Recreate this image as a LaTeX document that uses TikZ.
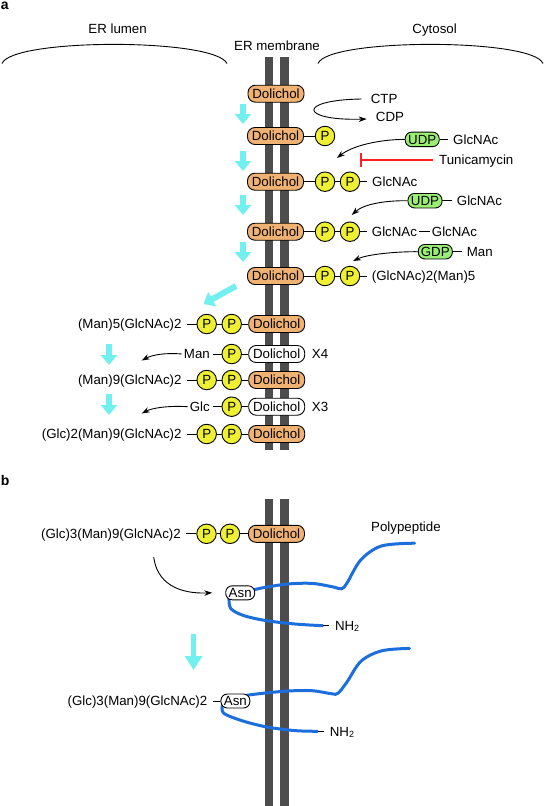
\documentclass[tikz,border=0pt]{standalone}
\usepackage{fontspec}
\setmainfont{Liberation Sans}
\usetikzlibrary{arrows.meta}
\definecolor{dolc}{HTML}{F0B272}
\definecolor{phc}{HTML}{F0F032}
\definecolor{ndpc}{HTML}{9AEE74}
\definecolor{cyc}{HTML}{72F0F0}
\definecolor{barc}{HTML}{4D4D4D}
\definecolor{pepc}{HTML}{1C6EDC}
\definecolor{redc}{HTML}{FF2020}
\newcommand{\subtwo}{{\fontsize{9}{9}\selectfont\raisebox{-1.5pt}{2}}}
\begin{document}
\begin{tikzpicture}[x=1pt,y=-1pt,
 every node/.style={font=\fontsize{13.3}{15}\selectfont},
 txt/.style={inner sep=0pt, text height=9.5pt, text depth=0pt},
 dol/.style={draw, line width=0.9pt, fill=dolc, rounded corners=7.5pt, minimum width=56pt, minimum height=17pt, inner sep=0pt, text height=9.5pt, text depth=0pt},
 dolw/.style={dol, fill=white},
 ph/.style={draw, line width=0.9pt, fill=phc, circle, minimum size=19.5pt, inner sep=0pt, text height=9.5pt, text depth=0pt},
 ndp/.style={draw, line width=0.9pt, fill=ndpc, rounded corners=6.5pt, minimum width=34pt, minimum height=14.5pt, inner sep=0pt, text height=9.5pt, text depth=0pt},
 asn/.style={draw, line width=0.9pt, fill=white, rounded corners=6.5pt, minimum width=29pt, minimum height=14pt, inner sep=0pt, text height=9.5pt, text depth=0pt},
 bond/.style={line width=0.9pt},
 arr/.style={line width=0.9pt, -{Stealth[length=8pt,width=5.5pt]}},
 cyarr/.style={draw=cyc, line width=6pt, -{Triangle[width=16pt,length=10pt]}},
 bar/.style={fill=barc},
 pep/.style={draw=pepc, line width=3pt, line cap=round, line join=round},
 panel/.style={inner sep=0pt, anchor=base west, font=\fontsize{14}{16}\selectfont\bfseries}
]
\useasboundingbox (0,0) rectangle (544,806);

% ---------- panel a ----------
\node[panel] (la) at (0.6,9.6) {a};
\node[txt] (lumen) at (117.6,28.5) {ER lumen};
\node[txt] (cyto) at (434.6,28.5) {Cytosol};
\node[txt] (memb) at (277,46) {ER membrane};
\draw[line width=0.9pt] (2,63.5) .. controls (12,38) and (215,38) .. (227,63.5);
\draw[line width=0.9pt] (318,63.5) .. controls (328,38) and (533,38) .. (543,63.5);

\fill[bar] (264.5,56.5) rectangle (273,449.5);
\fill[bar] (280,56.5) rectangle (288.5,449.5);

% row 1
\node[dol] (d1) at (276,93.7) {Dolichol};
\node[txt, anchor=west] (ctp) at (370.6,99) {CTP};
\node[txt, anchor=west] (cdp) at (375.7,117) {CDP};
\draw[arr] ([xshift=-9pt]ctp.west) .. controls (296,100) and (300,121) .. ([shift={(-9,2)}]cdp.west);

% row 2
\node[dol] (d2) at (275.5,136) {Dolichol};
\node[ph] (p2) at (325,136) {P};
\draw[bond] (d2) -- (p2);
\node[ndp] (u2) at (422.2,139.4) {UDP};
\node[txt, anchor=west] (g2) at (453,139.4) {GlcNAc};
\draw[bond, shorten >=5pt] (u2) -- (g2);
\coordinate (t2) at (337,158);
\draw[arr] (u2.west) .. controls (378,139.5) and (352,146) .. (t2);
\node[txt, anchor=west] (tun) at (439,160) {Tunicamycin};
\coordinate (inh) at (360,160);
\draw[redc, line width=1.6pt, -{Bar[width=14pt]}] ([xshift=-6pt]tun.west) -- (inh);

% row 3
\node[dol] (d3) at (275.5,181.7) {Dolichol};
\node[ph] (p3a) at (325,181.7) {P};
\node[ph] (p3b) at (350,181.7) {P};
\node[txt, anchor=west] (n3) at (372,181.7) {GlcNAc};
\draw[bond] (d3) -- (p3a);
\draw[bond] (p3a) -- (p3b);
\draw[bond, shorten >=5pt] (p3b) -- (n3);
\node[ndp] (u3) at (425,200.7) {UDP};
\node[txt, anchor=west] (g3) at (456.7,200.7) {GlcNAc};
\draw[bond, shorten >=5pt] (u3) -- (g3);
\coordinate (t3) at (351.7,215);
\draw[arr] (u3.west) .. controls (385,200.5) and (364,204) .. (t3);

% row 4
\node[dol] (d4) at (275.5,231.7) {Dolichol};
\node[ph] (p4a) at (325,231.7) {P};
\node[ph] (p4b) at (350,231.7) {P};
\node[txt, anchor=west] (n4a) at (371.7,231.7) {GlcNAc};
\node[txt, anchor=west] (n4b) at (431.7,231.7) {GlcNAc};
\draw[bond] (d4) -- (p4a);
\draw[bond] (p4a) -- (p4b);
\draw[bond, shorten >=5pt] (p4b) -- (n4a);
\draw[bond, shorten <=2pt, shorten >=2pt] (n4a) -- (n4b);
\node[ndp] (gd) at (435.3,251.7) {GDP};
\node[txt, anchor=west] (mn4) at (466.7,251.7) {Man};
\draw[bond, shorten >=5pt] (gd) -- (mn4);
\coordinate (t4) at (353,261);
\draw[arr] (gd.west) .. controls (398,251.5) and (368,254) .. (t4);

% row 5
\node[dol] (d5) at (275.5,276) {Dolichol};
\node[ph] (p5a) at (325,276) {P};
\node[ph] (p5b) at (350,276) {P};
\node[txt, anchor=west] (n5) at (371.7,276) {(GlcNAc)2(Man)5};
\draw[bond] (d5) -- (p5a);
\draw[bond] (p5a) -- (p5b);
\draw[bond, shorten >=5pt] (p5b) -- (n5);

% cyan arrows (membrane side)
\coordinate (c1a) at (243,104); \coordinate (c1b) at (243,124);
\coordinate (c2a) at (243,151); \coordinate (c2b) at (243,171);
\coordinate (c3a) at (243,195); \coordinate (c3b) at (243,215);
\coordinate (c4a) at (243,242); \coordinate (c4b) at (243,262);
\draw[cyarr] (c1a) -- (c1b);
\draw[cyarr] (c2a) -- (c2b);
\draw[cyarr] (c3a) -- (c3b);
\draw[cyarr] (c4a) -- (c4b);
\coordinate (cda) at (236,286); \coordinate (cdb) at (203.5,304);
\draw[cyarr] (cda) -- (cdb);

% row 6
\node[txt, anchor=east] (n6) at (181.7,324) {(Man)5(GlcNAc)2};
\node[ph] (p6a) at (206.7,324) {P};
\node[ph] (p6b) at (231.7,324) {P};
\node[dol] (d6) at (276.7,324) {Dolichol};
\draw[bond, shorten <=5pt] (n6) -- (p6a);
\draw[bond] (p6a) -- (p6b);
\draw[bond] (p6b) -- (d6);

% row 7
\node[txt, anchor=east] (m7) at (210,354) {Man};
\node[ph] (p7) at (231.7,354) {P};
\node[dolw] (d7) at (276.7,354) {Dolichol};
\node[txt, anchor=west] (x4) at (311.7,354) {X4};
\draw[bond, shorten <=3pt] (m7) -- (p7);
\draw[bond] (p7) -- (d7);
\coordinate (t7) at (141.7,360.5);
\draw[arr] ([xshift=-2pt]m7.west) .. controls (165,352.5) and (152,355) .. (t7);

% row 8
\node[txt, anchor=east] (n8) at (181.7,380) {(Man)9(GlcNAc)2};
\node[ph] (p8a) at (206.7,380) {P};
\node[ph] (p8b) at (231.7,380) {P};
\node[dol] (d8) at (276.7,380) {Dolichol};
\draw[bond, shorten <=5pt] (n8) -- (p8a);
\draw[bond] (p8a) -- (p8b);
\draw[bond] (p8b) -- (d8);

% row 9
\node[txt, anchor=east] (m9) at (210,406.7) {Glc};
\node[ph] (p9) at (231.7,406.7) {P};
\node[dolw] (d9) at (276.7,406.7) {Dolichol};
\node[txt, anchor=west] (x3) at (311.7,406.7) {X3};
\draw[bond, shorten <=3pt] (m9) -- (p9);
\draw[bond] (p9) -- (d9);
\coordinate (t9) at (141.7,413.5);
\draw[arr] ([xshift=-2pt]m9.west) .. controls (168,405.5) and (152,408) .. (t9);

% row 10
\node[txt, anchor=east] (n10) at (181.7,434) {(Glc)2(Man)9(GlcNAc)2};
\node[ph] (p10a) at (206.7,434) {P};
\node[ph] (p10b) at (231.7,434) {P};
\node[dol] (d10) at (276.7,434) {Dolichol};
\draw[bond, shorten <=5pt] (n10) -- (p10a);
\draw[bond] (p10a) -- (p10b);
\draw[bond] (p10b) -- (d10);

% left cyan arrows
\coordinate (c5a) at (109,344); \coordinate (c5b) at (109,365);
\coordinate (c6a) at (109,394); \coordinate (c6b) at (109,415);
\draw[cyarr] (c5a) -- (c5b);
\draw[cyarr] (c6a) -- (c6b);

% ---------- panel b ----------
\node[panel] (lb) at (0.6,485.7) {b};
\fill[bar] (264.5,499) rectangle (273,806);
\fill[bar] (280,499) rectangle (288.5,806);

\node[txt, anchor=east] (nb) at (181,533.8) {(Glc)3(Man)9(GlcNAc)2};
\node[ph] (pba) at (206.5,533.8) {P};
\node[ph] (pbb) at (230,533.8) {P};
\node[dol] (db) at (276.5,533.8) {Dolichol};
\draw[bond, shorten <=5pt] (nb) -- (pba);
\draw[bond] (pba) -- (pbb);
\draw[bond] (pbb) -- (db);
\node[txt, anchor=west] (poly) at (371,526.8) {Polypeptide};

% upper polypeptide
\draw[pep] plot[smooth, tension=0.55] coordinates {(252,590.3) (263.7,587.6) (288,584) (312,583.4) (333,586.9) (341.5,588.8) (347,583) (360.9,559.8) (381.7,545.9) (414.6,543.2)};
\draw[pep] plot[smooth, tension=0.55] coordinates {(229,598) (230.7,608.4) (243,615.3) (265.4,620.5) (295,624) (322.7,625.7)};
\coordinate (pe1) at (322.7,625.7);
\node[asn] (asn1) at (240.2,592.8) {Asn};
\node[txt, anchor=west] (nh1) at (334.8,625.7) {NH\subtwo};
\draw[bond, shorten >=6pt] (pe1) -- (nh1.west);
\coordinate (cb0) at (153.7,557);
\draw[arr] (cb0) .. controls (157,583) and (178,594) .. ([xshift=-13pt]asn1.west);

% big cyan arrow
\coordinate (c7a) at (193.6,634); \coordinate (c7b) at (193.6,670);
\draw[draw=cyc, line width=5pt, -{Triangle[width=17pt,length=14pt]}] (c7a) -- (c7b);

% lower polypeptide
\draw[pep] plot[smooth, tension=0.55] coordinates {(247,695.2) (263.7,693.2) (288,691) (312,690.7) (332,693.8) (338,693.2) (347,682) (361,661.2) (381.7,650.8) (409.4,648.4)};
\draw[pep] plot[smooth, tension=0.55] coordinates {(222.5,705) (223.8,713.3) (243,721) (267,727) (295,730.6) (317.5,731.3)};
\coordinate (pe2) at (317.5,731.3);
\node[txt, anchor=east] (nb2) at (207.5,701) {(Glc)3(Man)9(GlcNAc)2};
\node[asn] (asn2) at (235.4,701) {Asn};
\draw[bond, shorten <=5pt] (nb2) -- (asn2);
\node[txt, anchor=west] (nh2) at (329.6,731.3) {NH\subtwo};
\draw[bond, shorten >=6pt] (pe2) -- (nh2.west);
\end{tikzpicture}
\end{document}
